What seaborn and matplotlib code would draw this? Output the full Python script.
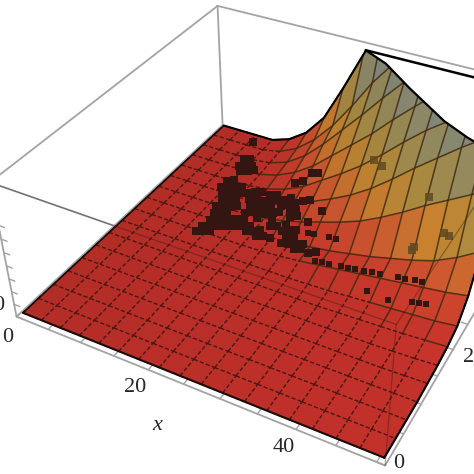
import numpy as np
import seaborn as sns
import matplotlib
matplotlib.use('Agg')
import matplotlib.pyplot as plt
from matplotlib.path import Path
from mpl_toolkits.mplot3d import proj3d
from mpl_toolkits.mplot3d.art3d import Line3DCollection

# surface heights, one row per y line, top of the box = 1
E = .02
T = 1.5
x_grid = np.linspace(0.6, 50.6, 18)
y_grid = np.linspace(0.6, 49.4, 17)
heights = np.array([
    [E]*18,
    [E]*18,
    [E]*18,
    [E]*18,
    [E]*16 + [.025, .03],
    [E]*15 + [.025, .03, .04],
    [E]*12 + [.025, .03, .035, .04, .05, .06],
    [E]*10 + [.025, .03, .04, .05, .06, .07, .08, .1],
    [E]*7 + [.025, .035, .05, .07, .09, .11, .13, .15, .17, .19, .22],
    [E]*7 + [.03, .04, .06, .08, .11, .14, .18, .22, .27, .35, .45],
    [E]*5 + [.025, .04, .07, .11, .16, .21, .27, .35, .44, .54, .63, .72, .82],
    [E]*5 + [.03, .06, .11, .18, .25, .33, .43, .55, .68, .8, .92, 1.03, 1.12],
    [E]*4 + [.025, .045, .09, .16, .26, .36, .47, .6, .74, .87, .98, 1.08, 1.18, 1.25],
    [E]*4 + [.03, .07, .14, .24, .37, .5, .63, .78, .92, 1.05, 1.15, 1.25, 1.35, 1.4],
    [E]*4 + [.04, .09, .19, .33, .49, .65, .82, .98, 1.12, 1.25, 1.35, 1.4, 1.45, 1.5],
    [E]*4 + [.05, .12, .24, .4, .6, .82, 1.0, 1.15, 1.3, 1.4, 1.45, T, T, T],
    [E]*4 + [.07, .17, .34, .62, .92, 1.2, 1.3, 1.4, 1.45, T, T, T, T, T],
])

# where the surface leaves the plotted range
TOP = .96
top_x = [24.5, 28.5, 34, 41, 45, 50.6]
top_y = [49.4, 47.3, 42.8, 37.5, 35.3, 33]

# dark specks
blob = [(8.2,42.8),(9.0,43.2),(8.4,40.8),(9.2,41.4),(10.2,41.8),(9.2,40.0),(10.2,40.4),(11.0,40.8),
        (8.8,36.8),(9.6,37.4),(8.8,35.2),(9.8,35.6),(10.6,36.0),(11.6,36.4),
        (9.8,33.8),(10.6,34.2),(11.4,34.8),(12.4,35.2),(13.2,35.6),(14.0,36.0),(15.0,36.4),(16.6,35.9),(17.6,36.0),
        (10.6,32.5),(11.5,33.0),(12.3,33.4),(14.0,34.3),(14.9,34.7),(16.2,34.4),(17.3,34.6),(18.2,34.9),(19.3,35.0),(20.3,35.2),
        (10.6,30.8),(11.5,31.2),(12.4,31.6),(13.2,32.1),(14.9,33.0),(15.8,33.4),(17.0,33.2),(18.0,33.5),(19.5,33.8),(20.6,34.0),(21.6,34.2),(22.7,34.4),(23.8,34.4),
        (11.1,29.3),(12.0,29.8),(12.8,30.2),(15.0,31.3),(15.8,31.8),(17.0,31.8),(17.9,32.0),(19.0,32.3),(19.9,32.5),(21.4,32.9),(22.4,33.0),
        (11.4,27.8),(12.2,28.3),(13.1,28.7),(13.9,29.1),(14.8,29.6),(15.6,30.0),(17.3,30.9),(19.5,31.2),(22.0,31.8),(23.0,31.9),
        (11.2,26.1),(12.1,26.5),(12.9,26.9),(13.8,27.4),(14.6,27.8),(15.5,28.3),(16.3,28.7),(17.2,29.1),(19.9,29.9),(20.9,30.1),(22.1,30.4),(25.2,31.1),
        (11.1,24.7),(12.0,25.2),(12.8,25.6),(17.2,27.9),(18.1,28.4),(18.9,28.8),(22.0,29.4),(23.0,29.7),(24.0,29.9),
        (19.0,27.6),(19.9,28.0),(21.0,28.0),(23.1,28.7),(24.1,29.0),
        (23.0,27.5),(23.9,27.7),(24.9,28.0),(25.9,28.2),(25.2,27.0),(26.1,27.3),(27.4,26.8),(28.4,27.2),
        (19.5,38.0),(20.6,38.2),(22.8,38.6),(21.6,39.0),(26.6,32.6),(7.0,47.4)]
dashes = [(26.0,29.6),(26.9,29.6),(29.2,29.4),(30.3,29.3),
          (29.2,25.6),(30.2,25.6),(31.2,25.6),(33.0,25.6),(34.0,25.6),(35.0,25.6),(36.2,25.6),(37.4,25.6),(38.5,25.6),
          (41.0,25.6),(41.9,25.6),(43.3,25.6),(44.3,25.6),(37.8,23.2),(41.0,22.8),(44.0,23.2),(44.9,23.3),(45.8,23.4)]
patches_high = [(32.0,37.0),(33.6,36.0),(42.0,31.6),(45.2,29.4),(46.0,29.2),(41.6,28.8),(41.4,28.6)]

x_ticks = [0, 5, 10, 15, 20, 25, 30, 35, 40, 45, 50]
y_ticks = [0, 5, 10, 15, 20, 25, 30]
z_ticks = [0, .1, .2, .3, .4, .5, .6, .7]
XMAX, YMAX = 51, 50


def surf_z(x, y):
    col = [np.interp(x, x_grid, r) for r in heights]
    return np.interp(y, y_grid, col)


sns.set_theme(style='white')
cmap = sns.blend_palette(['#bf2d2a', '#cb3a2c', '#ce5a30', '#c8832f', '#ad8a3e', '#978a58', '#84887a'], as_cmap=True)

fig = plt.figure(figsize=(4.74, 4.74), dpi=100)
ax = fig.add_axes([-2/474, -17.5/474, 566/474, 566/474], projection='3d', computed_zorder=False)
ax.set_xlim(0, XMAX)
ax.set_ylim(0, YMAX)
ax.set_zlim(0, 1)
ax.set_box_aspect((1, 1, 0.41))
ax.view_init(elev=36.5, azim=-62)
ax.set_proj_type('persp', focal_length=0.36)
ax.set_axis_off()
fig.canvas.draw()
M = ax.get_proj()

# clip everything above the top contour, done in view coordinates
cx, cy, _ = proj3d.proj_transform(np.array(top_x), np.array(top_y), np.full(len(top_x), TOP), M)
far = 1.0
verts = list(zip(cx, cy)) + [(cx[-1] + far, cy[-1]), (cx[-1] + far, -far), (cx[0] - far, -far), (cx[0] - far, cy[0] + far), (cx[0], cy[0] + far), (cx[0], cy[0])]
clip = Path(verts)

box_c = '#a3a3a3'


def edge(a, b, **kw):
    return ax.plot(*zip(a, b), **kw)


for a, b in [((0, YMAX, 0), (0, YMAX, 1)), ((0, YMAX, 1), (XMAX, YMAX, 1)), ((0, YMAX, 1), (0, 0, 1)),
             ((0, 0, 0), (0, 0, 1)), ((0, 0, 1), (XMAX, 0, 1)), ((0, 0, 0), (XMAX, 0, 0)),
             ((XMAX, 0, 0), (XMAX, YMAX, 0)), ((0, 0, 0), (0, YMAX, 0))]:
    edge(a, b, color=box_c, lw=1.3, zorder=1)
for v in x_ticks:
    ln = 1.6 if v % 20 == 0 else 0.9
    edge((v, 0, 0), (v, ln, 0), color=box_c, lw=1, zorder=1)
for v in y_ticks:
    ln = 1.6 if v % 20 == 0 else 0.9
    edge((XMAX, v, 0), (XMAX - ln, v, 0), color=box_c, lw=1, zorder=1)
for v in z_ticks:
    edge((0, 0, v), (0.9, 0, v), color=box_c, lw=1, zorder=1)

X, Y = np.meshgrid(x_grid, y_grid)
cell = (heights[:-1, :-1] + heights[1:, :-1] + heights[:-1, 1:] + heights[1:, 1:]) / 4
faces = cmap(np.clip(cell, 0, 1) ** 0.8)
# the surface gets a little lighter towards the right
light = 0.92 + 0.09 * (X[:-1, :-1] / XMAX)
faces[..., :3] = np.clip(faces[..., :3] * light[..., None], 0, 1)
surf = ax.plot_surface(X, Y, heights, facecolors=faces, shade=False,
                       rstride=1, cstride=1, linewidth=0, antialiased=False, zorder=2)
surf.set_clip_path(clip, ax.transData)

# mesh lines, broken where the surface lies flat
flat, steep = [], []
for j in range(len(y_grid)):
    for i in range(len(x_grid) - 1):
        seg = [(x_grid[i], y_grid[j], heights[j, i]), (x_grid[i+1], y_grid[j], heights[j, i+1])]
        (flat if max(heights[j, i], heights[j, i+1]) < .06 else steep).append(seg)
for i in range(len(x_grid)):
    for j in range(len(y_grid) - 1):
        seg = [(x_grid[i], y_grid[j], heights[j, i]), (x_grid[i], y_grid[j+1], heights[j+1, i])]
        (flat if max(heights[j, i], heights[j+1, i]) < .06 else steep).append(seg)
mesh_flat = Line3DCollection(flat, colors='#4a1712', linewidths=1.0, linestyles=[(0, (3, 1.6))], zorder=3)
mesh_steep = Line3DCollection(steep, colors='#3f2a12', linewidths=1.1, alpha=.85, zorder=3)
for m in (mesh_flat, mesh_steep):
    ax.add_collection3d(m)
    m.set_clip_path(clip, ax.transData)

# specks
bx, by = zip(*blob)
ax.scatter(bx, by, [surf_z(a, b) for a, b in blob], marker='s', s=32, c='#331512', linewidths=0, depthshade=False, zorder=4)
dx, dy = zip(*dashes)
ax.scatter(dx, dy, [surf_z(a, b) for a, b in dashes], marker='s', s=24, c='#331512', linewidths=0, depthshade=False, zorder=4)
hx, hy = zip(*patches_high)
ax.scatter(hx, hy, [surf_z(a, b) for a, b in patches_high], marker='s', s=30, c='#5f4a22', alpha=.85, linewidths=0, depthshade=False, zorder=4)

# black rim of the surface
ln = ax.plot(x_grid, [y_grid[0]]*18, heights[0], color='#1a0c0a', lw=1.5, zorder=5)[0]
ln2 = ax.plot([x_grid[0]]*17, y_grid, heights[:, 0], color='#1a0c0a', lw=1.2, zorder=5)[0]
ln3 = ax.plot(x_grid, [y_grid[-1]]*18, heights[-1], color='black', lw=1.5, zorder=5)[0]
ln4 = ax.plot([x_grid[-1]]*17, y_grid, heights[:, -1], color='black', lw=1.5, zorder=5)[0]
for l in (ln, ln2, ln3, ln4):
    l.set_clip_path(clip, ax.transData)
ax.plot(top_x, top_y, [TOP]*len(top_x), color='black', lw=1.6, zorder=5)
ax.plot([top_x[0], XMAX], [top_y[0]]*2, [TOP, TOP], color='black', lw=1.8, zorder=5)

# box edges that run in front of the surface
for a, b in [((0, 0, 1), (XMAX, 0, 1)), ((XMAX, 0, 0), (XMAX, 0, 1)), ((XMAX, 0, 1), (XMAX, YMAX, 1))]:
    edge(a, b, color='#3a1a14', lw=.9, alpha=.4, zorder=6)

labels = [(8, 338, '0'), (135, 388, '20'), (284, 447, '40'), (399, 463, '0'), (-1, 306, '0'), (474, 358, '20')]
for px, py, s in labels:
    fig.text(px/474, 1 - py/474, s, family='Liberation Serif', fontsize=16, color='#262626', ha='center', va='center')
fig.text(157/474, 1 - 425/474, 'x', family='Liberation Serif', style='italic', fontsize=16, color='#262626', ha='center', va='center')

fig.savefig('out.png', dpi=100)
